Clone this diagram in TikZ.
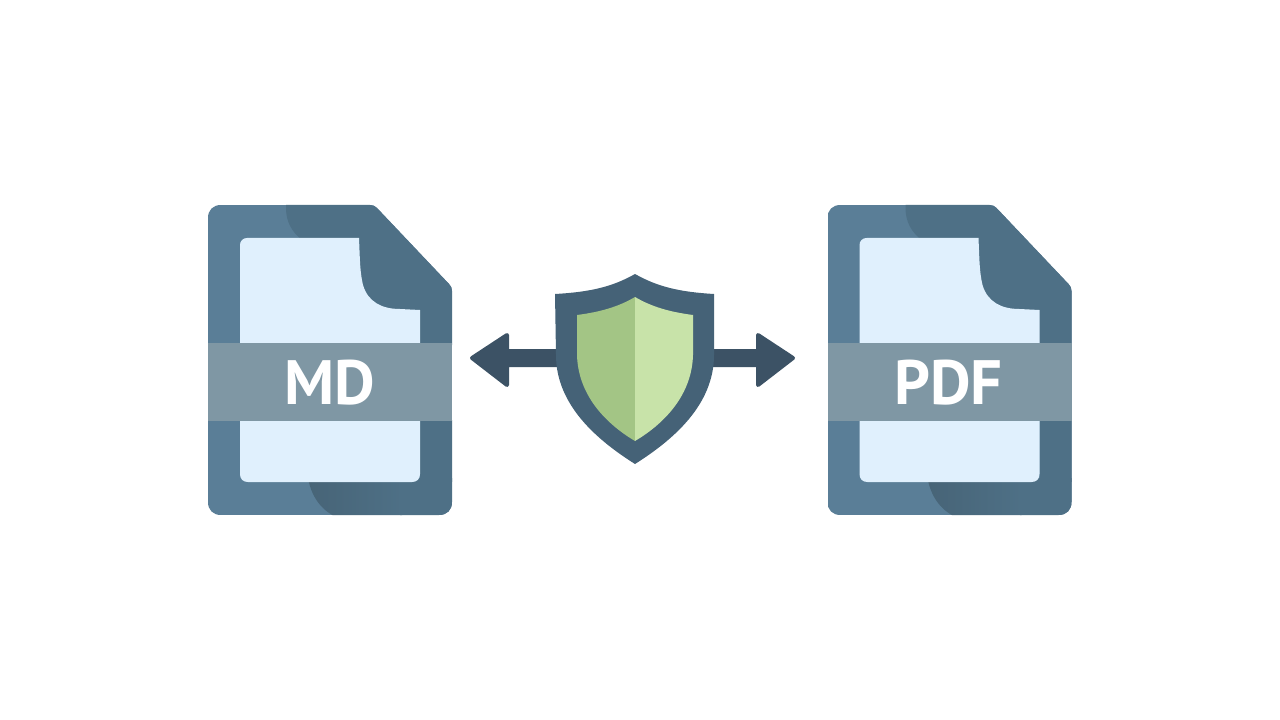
\documentclass[tikz,border=0pt]{standalone}
\usepackage{fontspec}
\setmainfont{PT Sans}
\definecolor{docmain}{HTML}{5A7E97}
\definecolor{docdark}{HTML}{4E7086}
\definecolor{docdeep}{HTML}{476477}
\definecolor{bandcol}{HTML}{7F97A4}
\definecolor{pagecol}{HTML}{E0F0FD}
\definecolor{ringcol}{HTML}{456277}
\definecolor{arrowcol}{HTML}{3C5265}
\definecolor{greenA}{HTML}{A3C585}
\definecolor{greenB}{HTML}{C8E3A9}
\tikzset{
  labeltext/.style={text=white,font=\fontsize{47}{47}\selectfont\bfseries,inner sep=0pt,anchor=center},
  arrowshape/.style={fill=arrowcol,draw=arrowcol,line width=3pt,line join=round},
}
\newcommand{\docicon}[3]{%
  \begin{scope}[shift={(#1,0)}]
    \begin{scope}
      \clip (221,205) -- (370,205) .. controls (373,205) and (375,206) .. (377,208) -- (449,284)
        .. controls (451,286) and (452,288) .. (452,291) -- (452,502) .. controls (452,510) and (447,515) .. (439,515)
        -- (221,515) .. controls (213,515) and (208,510) .. (208,502) -- (208,218) .. controls (208,210) and (213,205) .. (221,205) -- cycle;
      \fill[docmain] (208,205) rectangle (452,515);
      \fill[docdark] (286,200) -- (286,208) .. controls (286,222) and (292,232) .. (302,240) -- (340,345) -- (460,345) -- (460,200) -- cycle;
      \fill[docdark] (420,420) rectangle (460,482);
      \fill[docdark] (400,478) rectangle (460,520);
      \shade[left color=docdeep,right color=docdark] (308,478) .. controls (312,500) and (325,515) .. (345,520) -- (402,520) -- (402,478) -- cycle;
    \end{scope}
    \fill[pagecol] (247,238) -- (359,238) .. controls (360,262) and (360,272) .. (363,285)
       .. controls (368,302) and (382,309) .. (400,309) -- (420,310) -- (420,474)
       .. controls (420,479) and (417,482) .. (412,482) -- (248,482) .. controls (243,482) and (240,479) .. (240,474)
       -- (240,245) .. controls (240,241) and (243,238) .. (247,238) -- cycle;
    \fill[bandcol] (208,342.5) rectangle (452,421);
    \node[labeltext] (#2) at (330+#3,383) {#2};
  \end{scope}
}
\begin{document}
\begin{tikzpicture}[x=0.75pt,y=-0.75pt]
\useasboundingbox (0,0) rectangle (1280,720);
\fill[white] (0,0) rectangle (1280,720);
\docicon{0}{MD}{0}
\docicon{619.5}{PDF}{-1}
% arrows
\filldraw[arrowshape] (472,358) -- (507,335) -- (507,351) -- (560,351) -- (560,365) -- (507,365) -- (507,385) -- cycle;
\filldraw[arrowshape] (793,358) -- (758,335) -- (758,351) -- (710,351) -- (710,365) -- (758,365) -- (758,385) -- cycle;
% shield
\fill[ringcol] (635,274) .. controls (612,287) and (590,292) .. (555,294)
  -- (556,355) .. controls (556,405) and (597,440) .. (635,464)
  .. controls (673,440) and (714,405) .. (714,355)
  -- (714,294) .. controls (680,292) and (658,287) .. (635,274) -- cycle;
\fill[greenA] (635,297) .. controls (618,307) and (600,312) .. (577,315)
  -- (577,355) .. controls (578,393) and (603,422) .. (635,441) -- cycle;
\fill[greenB] (635,297) .. controls (652,307) and (670,312) .. (693,315)
  -- (693,355) .. controls (692,393) and (667,422) .. (635,441) -- cycle;
\end{tikzpicture}
\end{document}
